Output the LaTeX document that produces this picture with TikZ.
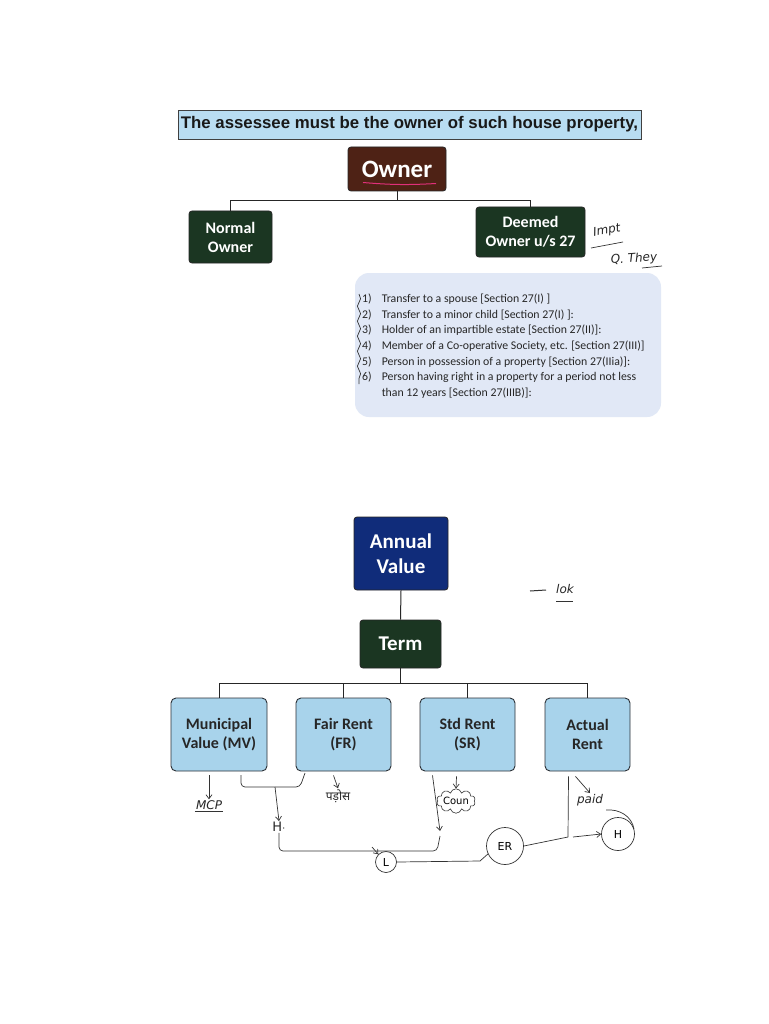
\documentclass[tikz,border=0pt]{standalone}
\usepackage{fontspec}
\setmainfont{Carlito}
\newfontfamily\titlefont{Liberation Sans}
\newfontfamily\handfont{DejaVu Sans}
\newfontfamily\deva[Script=Devanagari]{Noto Sans}
\usetikzlibrary{arrows.meta,shapes.symbols,calc,decorations.pathmorphing}
\definecolor{dkgreen}{HTML}{1B3622}
\definecolor{brownbox}{HTML}{4E2215}
\definecolor{navybox}{HTML}{102C7A}
\definecolor{ltblue}{HTML}{A8D3EB}
\definecolor{titleblue}{HTML}{B9DDF2}
\definecolor{listbg}{HTML}{E1E8F6}
\definecolor{edgegray}{HTML}{2B3036}
\definecolor{penpink}{HTML}{E0307A}
\tikzset{
  darkbox/.style={draw=black!85, line width=0.8pt, rounded corners=3pt, text=white, font=\bfseries, align=center, inner sep=0pt},
  lightbox/.style={draw=edgegray, line width=0.9pt, rounded corners=5pt, fill=ltblue, text=black!85, font=\fontsize{16}{19}\selectfont\bfseries, align=center, inner sep=0pt, minimum height=73pt},
  conn/.style={draw=black!85, line width=1pt},
  pen/.style={draw=black!80, line width=0.7pt},
  penarrow/.style={pen, -{Straight Barb[length=4pt,width=6pt]}},
  hand/.style={font=\handfont\itshape\fontsize{12}{14}\selectfont, text=black!85, inner sep=1pt},
  ring/.style={circle, draw=black!80, line width=0.7pt, inner sep=0pt, font=\handfont\fontsize{11}{13}\selectfont},
}
\begin{document}
\begin{tikzpicture}[x=1pt,y=-1pt]
\useasboundingbox[fill=white] (0,0) rectangle (768,1024);

% ---- top part ----
\node[draw=black!75, line width=0.7pt, fill=titleblue, minimum width=463pt, minimum height=29pt, inner sep=0pt,
      font=\titlefont\bfseries\fontsize{16.8}{18}\selectfont, text=black!90] (title) at (409.5,124.5)
      {The assessee must be the owner of such house property,};

\node[darkbox, fill=brownbox, minimum width=98pt, minimum height=44pt, font=\bfseries\fontsize{25}{28}\selectfont] (owner) at (397,169) {Owner};
\draw[penpink, line width=1pt] (363,182.5) to[bend right=4] (436,183.5);

\node[darkbox, fill=dkgreen, minimum width=83pt, minimum height=52pt, font=\bfseries\fontsize{16}{19}\selectfont] (normal) at (230.5,237) {Normal\\Owner};
\node[darkbox, fill=dkgreen, minimum width=109pt, minimum height=50pt, font=\bfseries\fontsize{16}{19}\selectfont] (deemed) at (530.5,232) {Deemed\\Owner u/s 27};

\coordinate (j1) at (397,201);
\draw[conn] (owner.south) -- (j1) -| (normal.north);
\draw[conn] (j1) -| (deemed.north);

% handwritten Impt / Q. They
\node[hand, rotate=10] (impt) at (607,231) {Impt};
\draw[pen] (591,248) -- (623,242);
\node[hand, rotate=4] (qthey) at (634,259) {Q. They};
\draw[pen] (642,268) -- (662,266);

% list box
\node[fill=listbg, rounded corners=14pt, minimum width=306pt, minimum height=144pt, inner sep=0pt] (lst) at (508,345) {};
\node[anchor=north west, inner sep=0pt, font=\fontsize{11.8}{15.6}\selectfont, text=black!85] (items) at (362,291.5)
 {\begin{tabular}{@{}l@{\hspace{10pt}}l@{}}
 1) & Transfer to a spouse [Section 27(I) ]\\
 2) & Transfer to a minor child [Section 27(I) ]:\\
 3) & Holder of an impartible estate [Section 27(II)]:\\
 4) & Member of a Co-operative Society, etc. [Section 27(III)]\\
 5) & Person in possession of a property [Section 27(IIia)]:\\
 6) & Person having right in a property for a period not less\\
    & than 12 years [Section 27(IIIB)]:
 \end{tabular}};
\draw[pen, decorate, decoration={snake, amplitude=1.6pt, segment length=15pt}] (359,294) -- (359,384);

% ---- bottom part ----
\node[darkbox, fill=navybox, minimum width=94pt, minimum height=73pt, font=\bfseries\fontsize{21}{25}\selectfont] (av) at (401,553.5) {Annual\\Value};
\node[darkbox, fill=dkgreen, minimum width=81pt, minimum height=48pt, font=\bfseries\fontsize{21}{25}\selectfont] (term) at (400.5,644) {Term};
\draw[conn] (av.south) -- (term.north);

\node[lightbox, minimum width=96pt] (mv) at (219,734.5) {Municipal\\Value (MV)};
\node[lightbox, minimum width=95pt] (fr) at (343.5,734.5) {Fair Rent\\(FR)};
\node[lightbox, minimum width=95pt] (sr) at (467.5,734.5) {Std Rent\\(SR)};
\node[lightbox, minimum width=85pt] (ar) at (587.5,734.5) {Actual\\Rent};

\coordinate (j2) at (400.5,683);
\draw[conn] (term.south) -- (j2);
\draw[conn] (j2) -| (mv.north);
\draw[conn] (j2) -| (fr.north);
\draw[conn] (j2) -| (sr.north);
\draw[conn] (j2) -| (ar.north);

% "-- lok"
\draw[pen, line width=1pt] (530,591) -- (546,590);
\node[hand] (lok) at (565,589) {lok};
\draw[pen, line width=1pt] (556,601) -- (573,601);

% handwritten annotations
\node[hand] (mcp) at (209,805) {MCP};
\draw[pen] (mcp.south west) ++(0,1) -- ($(mcp.south east)+(0,1)$);
\draw[penarrow] ($(mv.south)+(-10,4)$) -- (mcp.north);

\node[inner sep=1pt, font=\deva\fontsize{12}{14}\selectfont, text=black!85] (pad) at (338,796) {पड़ोस};
\draw[penarrow] ($(fr.south)+(-10,4)$) -- (pad.north);

\node[cloud, cloud puffs=10, aspect=2.2, draw=black!80, line width=0.6pt, inner sep=0pt, font=\handfont\fontsize{10}{12}\selectfont] (coun) at (456,801) {Coun};
\draw[penarrow] ($(sr.south)+(-11,5)$) -- (coun.north);

\node[hand] (paid) at (590,800) {paid};
\draw[penarrow] ($(ar.south)+(-12,5)$) -- (paid.north);

\node[hand, font=\handfont\fontsize{13}{15}\selectfont] (hH) at (279,827) {H$\cdot$};
\coordinate (b1) at (241,775);
\coordinate (b2) at (305,773);
\draw[pen, rounded corners=4pt] (b1) |- (300,787) -- (b2);
\draw[penarrow] (275,787) -- (hH.north);

\draw[penarrow] ($(sr.south)+(-35,4)$) -- (440,831);
\draw[pen, rounded corners=4pt] (hH.south) |- (437,851) -- (440,836);

\node[ring, minimum size=21pt] (L) at (386,862) {L};
\draw[penarrow] (372,847) -- (L.north west);

\node[ring, minimum width=34pt, minimum height=37pt] (ER) at (505,846) {ER};
\node[ring, minimum size=33pt] (H2) at (618,834) {H};

\draw[pen] (L.east) -- (480,861) -- (ER.205);
\coordinate (j3) at (568,837);
\draw[pen] (ER.east) -- (j3);
\draw[pen] ($(ar.south)+(-19,5)$) -- (j3);
\draw[penarrow] (573,837) -- (H2.west);
\draw[pen] (606,810) to[out=5,in=100] (634,829);
\end{tikzpicture}
\end{document}
